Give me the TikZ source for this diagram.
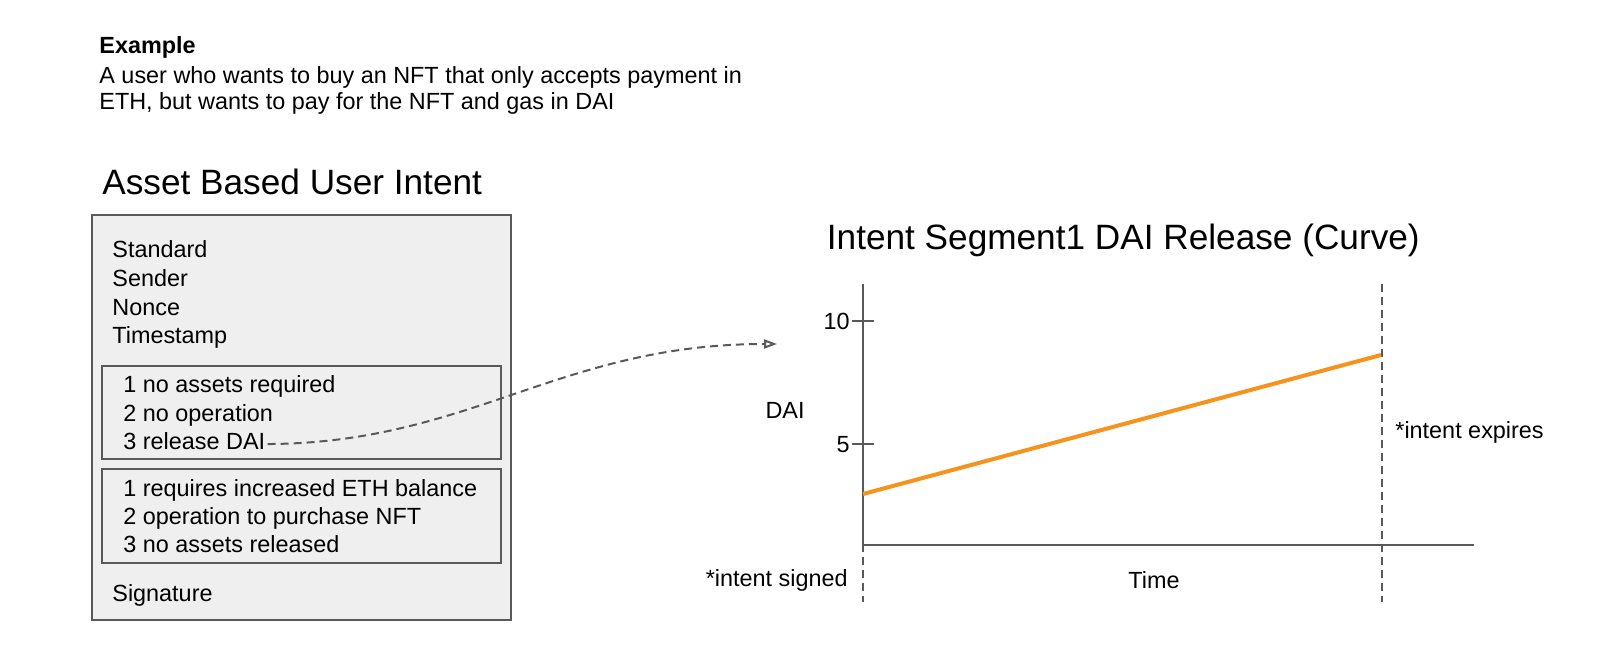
\documentclass[tikz,border=0pt]{standalone}
\usepackage{fontspec}
\setmainfont{Liberation Sans}
\usetikzlibrary{arrows.meta}
\definecolor{edge}{HTML}{595959}
\definecolor{boxfill}{HTML}{EFEFEF}
\definecolor{curveorange}{HTML}{F6921E}
\begin{document}
\begin{tikzpicture}[x=0.5pt,y=-0.5pt,
  txt/.style={inner sep=0pt, anchor=base west, font=\fontsize{11.7pt}{14pt}\selectfont},
  txtr/.style={txt, anchor=base east},
  txtc/.style={txt, anchor=base},
  ttl/.style={inner sep=0pt, anchor=base west, font=\fontsize{17.6pt}{21pt}\selectfont},
  boxline/.style={draw=edge, line width=1pt},
  dashline/.style={draw=edge, line width=1pt, dash pattern=on 4pt off 2.5pt},
  axisline/.style={draw=edge, line width=1.2pt},
  curveline/.style={draw=curveorange, line width=2pt},
]
\useasboundingbox (0,0) rectangle (1600,648);

% header
\node[txt, font=\bfseries\fontsize{11.7pt}{14pt}\selectfont] (ex) at (99,53) {Example};
\node[txt] (ex1) at (99,83) {A user who wants to buy an NFT that only accepts payment in};
\node[txt] (ex2) at (99,109) {ETH, but wants to pay for the NFT and gas in DAI};

% left panel
\node[ttl] (lt) at (102,194) {Asset Based User Intent};
\node[boxline, fill=boxfill, minimum width=209.5pt, minimum height=202.5pt, inner sep=0pt] (outer) at (301.5,417.5) {};
\node[txt] (std) at (112,257.4) {Standard};
\node[txt] (snd) at (112,286.4) {Sender};
\node[txt] (non) at (112,315.4) {Nonce};
\node[txt] (tms) at (112,343.4) {Timestamp};

\node[boxline, minimum width=199.5pt, minimum height=46.5pt, inner sep=0pt] (seg1) at (301.5,412.5) {};
\node[txt] (s11) at (123,392.4) {1 no assets required};
\node[txt] (s12) at (123,421.4) {2 no operation};
\node[txt] (rel) at (123,449.4) {3 release DAI};

\node[boxline, minimum width=199.5pt, minimum height=47pt, inner sep=0pt] (seg2) at (301.5,516) {};
\node[txt] (s21) at (123,496.4) {1 requires increased ETH balance};
\node[txt] (s22) at (123,524.4) {2 operation to purchase NFT};
\node[txt] (s23) at (123,552.4) {3 no assets released};

\node[txt] (sig) at (112,601.4) {Signature};

% chart
\node[ttl] (rt) at (826.5,249.6) {Intent Segment1 DAI Release (Curve)};
\coordinate (tip) at (777,344);
\coordinate (ytop) at (863,284);
\coordinate (org) at (863,545);
\coordinate (xend) at (1474,545);
\coordinate (lbot) at (863,602);
\coordinate (rtop) at (1382,284);
\coordinate (rbot) at (1382,602);
\coordinate (t10a) at (852,321);
\coordinate (t10b) at (874,321);
\coordinate (t5a) at (852,444);
\coordinate (t5b) at (874,444);
\coordinate (cs) at (863,494);
\coordinate (ce) at (1381,355);

\draw[axisline] (ytop) -- (org) -- (xend);
\draw[dashline] (ytop) -- (lbot);
\draw[dashline] (rtop) -- (rbot);
\draw[axisline, line width=1pt] (t10a) -- (t10b);
\draw[axisline, line width=1pt] (t5a) -- (t5b);
\draw[curveline] (cs) -- (ce);

\node[txtr] (l10) at (850,329.4) {10};
\node[txtr] (l5) at (850,452.4) {5};
\node[txtc] (dai) at (785,418.4) {DAI};
\node[txtr] (isg) at (848,586) {*intent signed};
\node[txt] (iex) at (1395,438.4) {*intent expires};
\node[txtc] (time) at (1154,588) {Time};

% connector
\draw[dashline, -{Triangle[open, length=6.5pt, width=4.5pt]}]
  ([xshift=1pt, yshift=-1.5pt]rel.east) .. controls (470,443) and (560,344) .. (tip);
\end{tikzpicture}
\end{document}
